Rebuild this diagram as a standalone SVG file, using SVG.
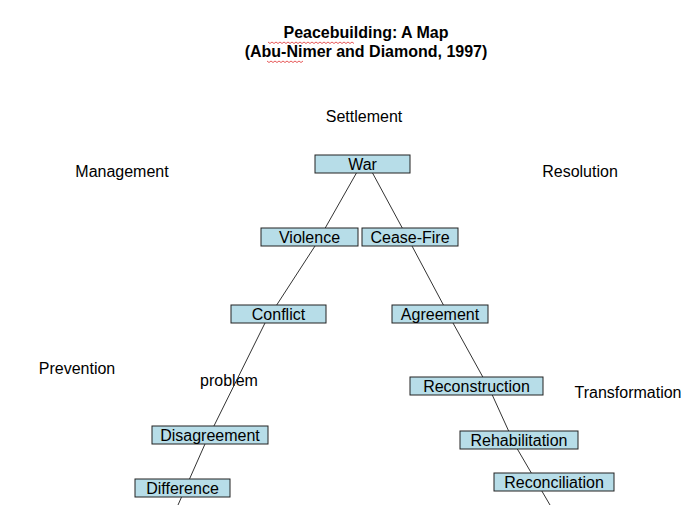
<svg xmlns="http://www.w3.org/2000/svg" width="700" height="519" viewBox="0 0 700 519">
<style>
text{font-family:"Liberation Sans",Arial,sans-serif;font-size:16px;fill:#000}
.t{font-weight:bold;text-anchor:middle}
.n rect{fill:#b7dde8;stroke:#222;stroke-width:1}
.n text{text-anchor:middle}
.l{fill:none;stroke:#333;stroke-width:1}
.sq{fill:none;stroke:#e03030;stroke-width:0.8}
</style>
<rect width="700" height="519" fill="#fff"/>
<text class="t" x="366" y="38">Peacebuilding: A Map</text>
<text class="t" x="366" y="57">(Abu-Nimer and Diamond, 1997)</text>
<path class="sq" d="M268 42 l2 1.5 l2 -1.5 l2 1.5 l2 -1.5 l2 1.5 l2 -1.5 l2 1.5 l2 -1.5 l2 1.5 l2 -1.5 l2 1.5 l2 -1.5 l2 1.5 l2 -1.5 l2 1.5 l2 -1.5 l2 1.5 l2 -1.5 l2 1.5 l2 -1.5 l2 1.5 l2 -1.5 l2 1.5 l2 -1.5 l2 1.5 l2 -1.5 l2 1.5 l2 -1.5 l2 1.5 l2 -1.5 l2 1.5 l2 -1.5 l2 1.5 l2 -1.5 l2 1.5 l2 -1.5 l2 1.5 l2 -1.5 l2 1.5 l2 -1.5 l2 1.5 l2 -1.5 l2 1.5"/>
<path class="sq" d="M267 61 l2 1.5 l2 -1.5 l2 1.5 l2 -1.5 l2 1.5 l2 -1.5 l2 1.5 l2 -1.5 l2 1.5 l2 -1.5 l2 1.5 l2 -1.5 l2 1.5 l2 -1.5 l2 1.5 l2 -1.5 l2 1.5 l2 -1.5"/>
<text x="364" y="122" text-anchor="middle">Settlement</text>
<text x="122" y="177" text-anchor="middle">Management</text>
<text x="580" y="177" text-anchor="middle">Resolution</text>
<text x="77" y="374" text-anchor="middle">Prevention</text>
<text x="229" y="386" text-anchor="middle">problem</text>
<text x="628" y="398" text-anchor="middle">Transformation</text>
<g id="connectors">
<polyline class="l" points="357,172 315,246 265,323 205,444 178,505"/>
<polyline class="l" points="372,172 412,246 453,323 490,390 515,445 550,505"/>
</g>
<g id="war" class="n"><rect x="315" y="155" width="95" height="18"/><text x="362.5" y="170">War</text></g>
<g id="violence" class="n"><rect x="261" y="228" width="97" height="18"/><text x="309.5" y="243">Violence</text></g>
<g id="ceasefire" class="n"><rect x="362" y="228" width="96" height="18"/><text x="410" y="243">Cease-Fire</text></g>
<g id="conflict" class="n"><rect x="231" y="305" width="95" height="18"/><text x="278.5" y="320">Conflict</text></g>
<g id="agreement" class="n"><rect x="392" y="305" width="96" height="18"/><text x="440" y="320">Agreement</text></g>
<g id="reconstruction" class="n"><rect x="410" y="377" width="133" height="18"/><text x="476.5" y="392">Reconstruction</text></g>
<g id="disagreement" class="n"><rect x="152" y="426" width="116" height="18"/><text x="210" y="441">Disagreement</text></g>
<g id="rehabilitation" class="n"><rect x="460" y="431" width="118" height="18"/><text x="519" y="446">Rehabilitation</text></g>
<g id="reconciliation" class="n"><rect x="494" y="473" width="120" height="18"/><text x="554" y="488">Reconciliation</text></g>
<g id="difference" class="n"><rect x="135" y="479" width="95" height="18"/><text x="182.5" y="494">Difference</text></g>
</svg>
